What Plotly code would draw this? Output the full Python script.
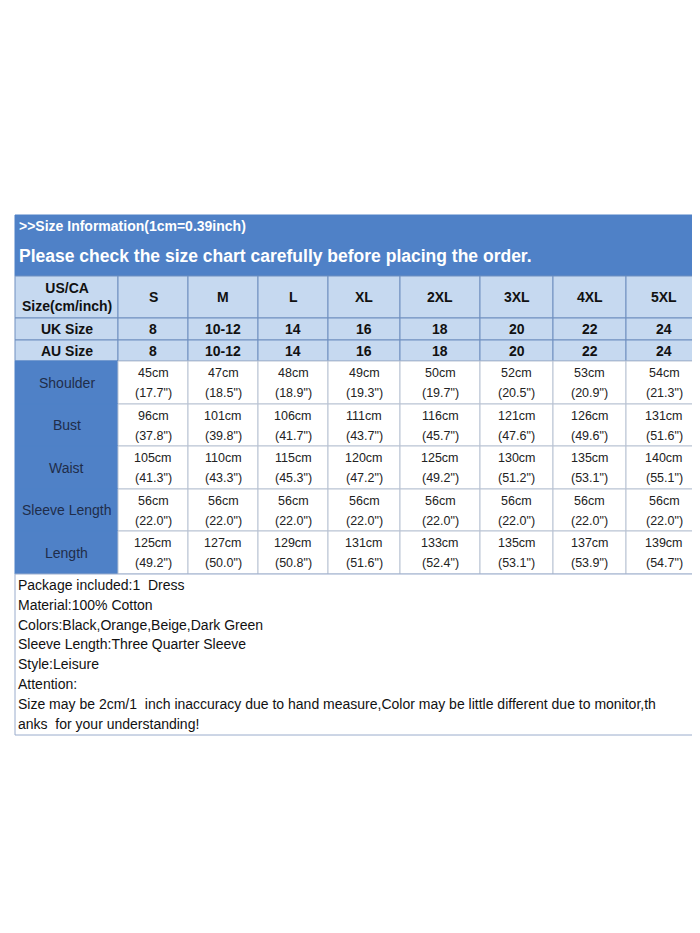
import plotly.graph_objects as go

sizes = ["S", "M", "L", "XL", "2XL", "3XL", "4XL", "5XL"]
uk_sizes = ["8", "10-12", "14", "16", "18", "20", "22", "24"]
au_sizes = ["8", "10-12", "14", "16", "18", "20", "22", "24"]
measures = ["Shoulder", "Bust", "Waist", "Sleeve Length", "Length"]
shoulder_cm = [45, 47, 48, 49, 50, 52, 53, 54]
shoulder_in = ["17.7", "18.5", "18.9", "19.3", "19.7", "20.5", "20.9", "21.3"]
bust_cm = [96, 101, 106, 111, 116, 121, 126, 131]
bust_in = ["37.8", "39.8", "41.7", "43.7", "45.7", "47.6", "49.6", "51.6"]
waist_cm = [105, 110, 115, 120, 125, 130, 135, 140]
waist_in = ["41.3", "43.3", "45.3", "47.2", "49.2", "51.2", "53.1", "55.1"]
sleeve_cm = [56, 56, 56, 56, 56, 56, 56, 56]
sleeve_in = ["22.0"] * 8
length_cm = [125, 127, 129, 131, 133, 135, 137, 139]
length_in = ["49.2", "50.0", "50.8", "51.6", "52.4", "53.1", "53.9", "54.7"]
title1 = ">>Size Information(1cm=0.39inch)"
title2 = "Please check the size chart carefully before placing the order."
notes = ["Package included:1  Dress", "Material:100% Cotton", "Colors:Black,Orange,Beige,Dark Green",
         "Sleeve Length:Three Quarter Sleeve", "Style:Leisure", "Attention:",
         "Size may be 2cm/1  inch inaccuracy due to hand measure,Color may be little different due to monitor,th",
         "anks  for your understanding!"]

cms = [shoulder_cm, bust_cm, waist_cm, sleeve_cm, length_cm]
ins = [shoulder_in, bust_in, waist_in, sleeve_in, length_in]

xb = [7, 110, 180, 250, 320, 392, 472, 545, 618, 694]
hdr = [268, 310, 332, 353]
body = [353, 396, 438, 481, 523, 566]
FONT = "Liberation Sans, Arial, sans-serif"
BLUE = "#4f81c7"; LIGHT = "#c6d9f0"; GRID = "#8eaad4"; DARK = "#1f2d4a"

shapes, ann = [], []
def rect(x0, y0, x1, y1, fill, line=GRID, w=1):
    shapes.append(dict(type="rect", x0=x0, x1=x1, y0=y0, y1=y1, fillcolor=fill,
                       line=dict(color=line, width=w), layer="below"))
def txt(x, y, t, size=13, color="#222", bold=False, xanchor="center"):
    ann.append(dict(x=x, y=y, text=f"<b>{t}</b>" if bold else t, showarrow=False,
                    xanchor=xanchor, yanchor="middle",
                    font=dict(family=FONT, size=size, color=color)))

rect(7, 207, 694, 268, BLUE, line=BLUE)
txt(9, 218, title1, 14, "white", True, "left")
txt(9, 248, title2, 17.5, "white", True, "left")

header_rows = [["US/CA<br>Size(cm/inch)"] + sizes, ["UK Size"] + uk_sizes, ["AU Size"] + au_sizes]
for r, row in enumerate(header_rows):
    for c, val in enumerate(row):
        rect(xb[c], hdr[r], xb[c + 1], hdr[r + 1], LIGHT, "#6f8fbf")
        txt((xb[c] + xb[c + 1]) / 2, (hdr[r] + hdr[r + 1]) / 2, val, 14, "#111", True)

for r, m in enumerate(measures):
    y0, y1 = body[r], body[r + 1]
    rect(xb[0], y0, xb[1], y1, BLUE, line=BLUE)
    txt((xb[0] + xb[1]) / 2, (y0 + y1) / 2, m, 14, DARK)
    for c in range(8):
        rect(xb[c + 1], y0, xb[c + 2], y1, "white", "#b9c3d3")
        cx = (xb[c + 1] + xb[c + 2]) / 2
        txt(cx, y0 + 12, f"{cms[r][c]}cm", 12.5)
        txt(cx, y0 + 32, f"({ins[r][c]}\")", 12.5)

rect(7, 566, 694, 727, "white", "#9aaccc")
for i, n in enumerate(notes):
    txt(8, 577 + i * 19.8, n, 14, "#111", False, "left")

fig = go.Figure()
fig.update_layout(width=700, height=933, margin=dict(l=0, r=0, t=0, b=0),
                  paper_bgcolor="white", plot_bgcolor="white", shapes=shapes, annotations=ann,
                  xaxis=dict(range=[0, 700], visible=False, fixedrange=True),
                  yaxis=dict(range=[933, 0], visible=False, fixedrange=True), showlegend=False)
fig.write_html("out.html")
